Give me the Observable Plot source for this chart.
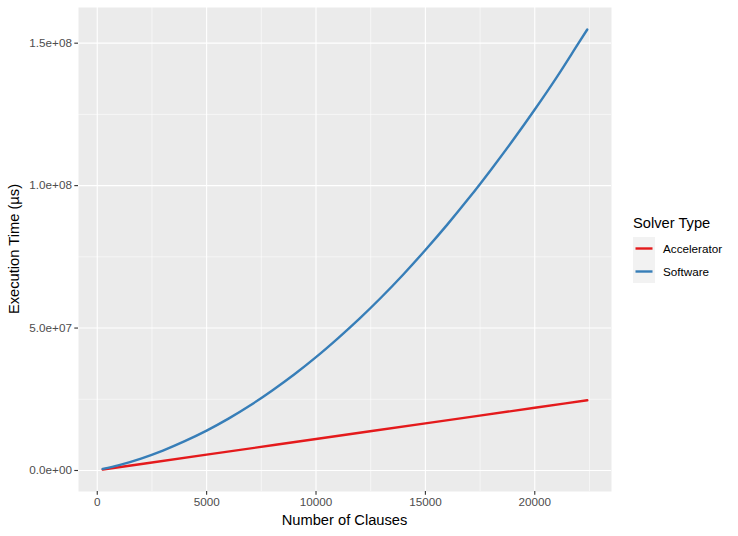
<!DOCTYPE html>
<html>
<head>
<meta charset="utf-8">
<script src="https://cdn.jsdelivr.net/npm/d3@7"></script>
<script src="https://cdn.jsdelivr.net/npm/@observablehq/plot@0.6"></script>
<style>
  html, body { margin: 0; padding: 0; background: #fff; }
  body { width: 738px; height: 536px; position: relative; overflow: hidden; font-family: "Liberation Sans", Arial, sans-serif; }
  #chart { position: absolute; left: 0; top: 0; }
  .lbl { position: absolute; white-space: nowrap; line-height: 1; }
</style>
</head>
<body>
<div id="chart"></div>
<script>
// ---- data ----
const seriesNames = ["Accelerator", "Software"];
const seriesColors = ["#E41A1C", "#377EB8"];

const clausesSoftware = [250, 1000, 2000, 3000, 4000, 5000, 6000, 7000, 8000, 9000, 10000,
  11000, 12000, 13000, 14000, 15000, 16000, 17000, 18000, 19000, 20000, 21000, 22000, 22400];
const softwareTime = [0.55e6, 1.9e6, 4.2e6, 7.0e6, 10.3e6, 14.0e6, 18.2e6, 22.9e6, 28.1e6, 33.7e6, 39.8e6,
  46.4e6, 53.4e6, 60.9e6, 68.9e6, 77.4e6, 86.3e6, 95.7e6, 105.6e6, 115.9e6, 126.7e6, 138.0e6, 150.0e6, 154.8e6];

const clausesAccelerator = [250, 5000, 10000, 15000, 20000, 22400];
const acceleratorTime = [0.35e6, 5.56e6, 11.05e6, 16.53e6, 22.02e6, 24.65e6];

const xMajorTicks = [0, 5000, 10000, 15000, 20000];
const xMinorTicks = [2500, 7500, 12500, 17500, 22500];
const yMajorTicks = [0, 5e7, 1e8, 1.5e8];
const yMinorTicks = [2.5e7, 7.5e7, 1.25e8];

const xTitle = "Number of Clauses";
const yTitle = "Execution Time (µs)";
const legendTitle = "Solver Type";

// ---- build table ----
const rows = [
  ...clausesAccelerator.map((x, i) => ({x, y: acceleratorTime[i], s: seriesNames[0]})),
  ...clausesSoftware.map((x, i) => ({x, y: softwareTime[i], s: seriesNames[1]}))
];

function expand(ext, f = 0.05) {
  const r = ext[1] - ext[0];
  return [ext[0] - r * f, ext[1] + r * f];
}
const xDomain = expand(d3.extent(rows, d => d.x));
const yDomain = expand(d3.extent(rows, d => d.y));

function sci(t) {
  const [m, e] = d3.format(".1e")(t).split("e");
  const sign = e[0] === "-" ? "-" : "+";
  const digits = e.replace(/[+-]/, "").padStart(2, "0");
  return `${m}e${sign}${digits}`;
}

const W = 738, H = 536;
const mL = 78, mR = 127, mT = 7, mB = 45;
const font = "Liberation Sans, Arial, sans-serif";

const plot = Plot.plot({
  width: W,
  height: H,
  marginLeft: mL,
  marginRight: mR,
  marginTop: mT,
  marginBottom: mB,
  style: {fontFamily: font, background: "white", overflow: "visible"},
  x: {domain: xDomain, axis: null},
  y: {domain: yDomain, axis: null},
  color: {domain: seriesNames, range: seriesColors},
  marks: [
    Plot.frame({fill: "#EBEBEB", stroke: "none"}),
    Plot.gridX(xMinorTicks, {stroke: "white", strokeOpacity: 1, strokeWidth: 0.55}),
    Plot.gridY(yMinorTicks, {stroke: "white", strokeOpacity: 1, strokeWidth: 0.55}),
    Plot.gridX(xMajorTicks, {stroke: "white", strokeOpacity: 1, strokeWidth: 1.1}),
    Plot.gridY(yMajorTicks, {stroke: "white", strokeOpacity: 1, strokeWidth: 1.1}),
    Plot.line(rows, {x: "x", y: "y", z: "s", stroke: "s", strokeWidth: 2.4, curve: "monotone-x"}),
    Plot.axisX(xMajorTicks, {tickSize: 3.7, tickPadding: 2.6, stroke: "#333333", strokeWidth: 1.1,
      fill: "#4D4D4D", fontSize: 11.7, label: null, tickFormat: d => String(d)}),
    Plot.axisY(yMajorTicks, {tickSize: 3.7, tickPadding: 2.9, stroke: "#333333", strokeWidth: 1.1,
      fill: "#4D4D4D", fontSize: 11.7, label: null, tickFormat: sci})
  ]
});
document.getElementById("chart").appendChild(plot);

// ---- titles ----
const body = document.body;
function addLabel(text, css) {
  const d = document.createElement("div");
  d.className = "lbl";
  d.textContent = text;
  Object.assign(d.style, css);
  body.appendChild(d);
  return d;
}
const panelCX = mL + (W - mL - mR) / 2;
const panelCY = mT + (H - mT - mB) / 2;
addLabel(xTitle, {left: panelCX + "px", top: "520px", fontSize: "14.7px", color: "#000",
  transform: "translate(-50%, -50%)"});
addLabel(yTitle, {left: "14px", top: panelCY + "px", fontSize: "14.7px", color: "#000",
  transform: "translate(-50%, -50%) rotate(-90deg)"});

// ---- legend ----
addLabel(legendTitle, {left: "633px", top: "223px", fontSize: "14.7px", color: "#000",
  transform: "translate(0, -50%)"});
const ns = "http://www.w3.org/2000/svg";
const lg = document.createElementNS(ns, "svg");
lg.setAttribute("width", 24);
lg.setAttribute("height", 48);
Object.assign(lg.style, {position: "absolute", left: "633px", top: "237px"});
const bg = document.createElementNS(ns, "rect");
bg.setAttribute("x", 0); bg.setAttribute("y", 0);
bg.setAttribute("width", 22); bg.setAttribute("height", 46);
bg.setAttribute("fill", "#F2F2F2");
lg.appendChild(bg);
seriesNames.forEach((name, i) => {
  const ln = document.createElementNS(ns, "line");
  const cy = 11.5 + i * 23;
  ln.setAttribute("x1", 2.5); ln.setAttribute("x2", 19.5);
  ln.setAttribute("y1", cy); ln.setAttribute("y2", cy);
  ln.setAttribute("stroke", seriesColors[i]);
  ln.setAttribute("stroke-width", 2.4);
  lg.appendChild(ln);
  addLabel(name, {left: "663px", top: (237 + cy) + "px", fontSize: "11.7px", color: "#000",
    transform: "translate(0, -50%)"});
});
body.appendChild(lg);
</script>
</body>
</html>
